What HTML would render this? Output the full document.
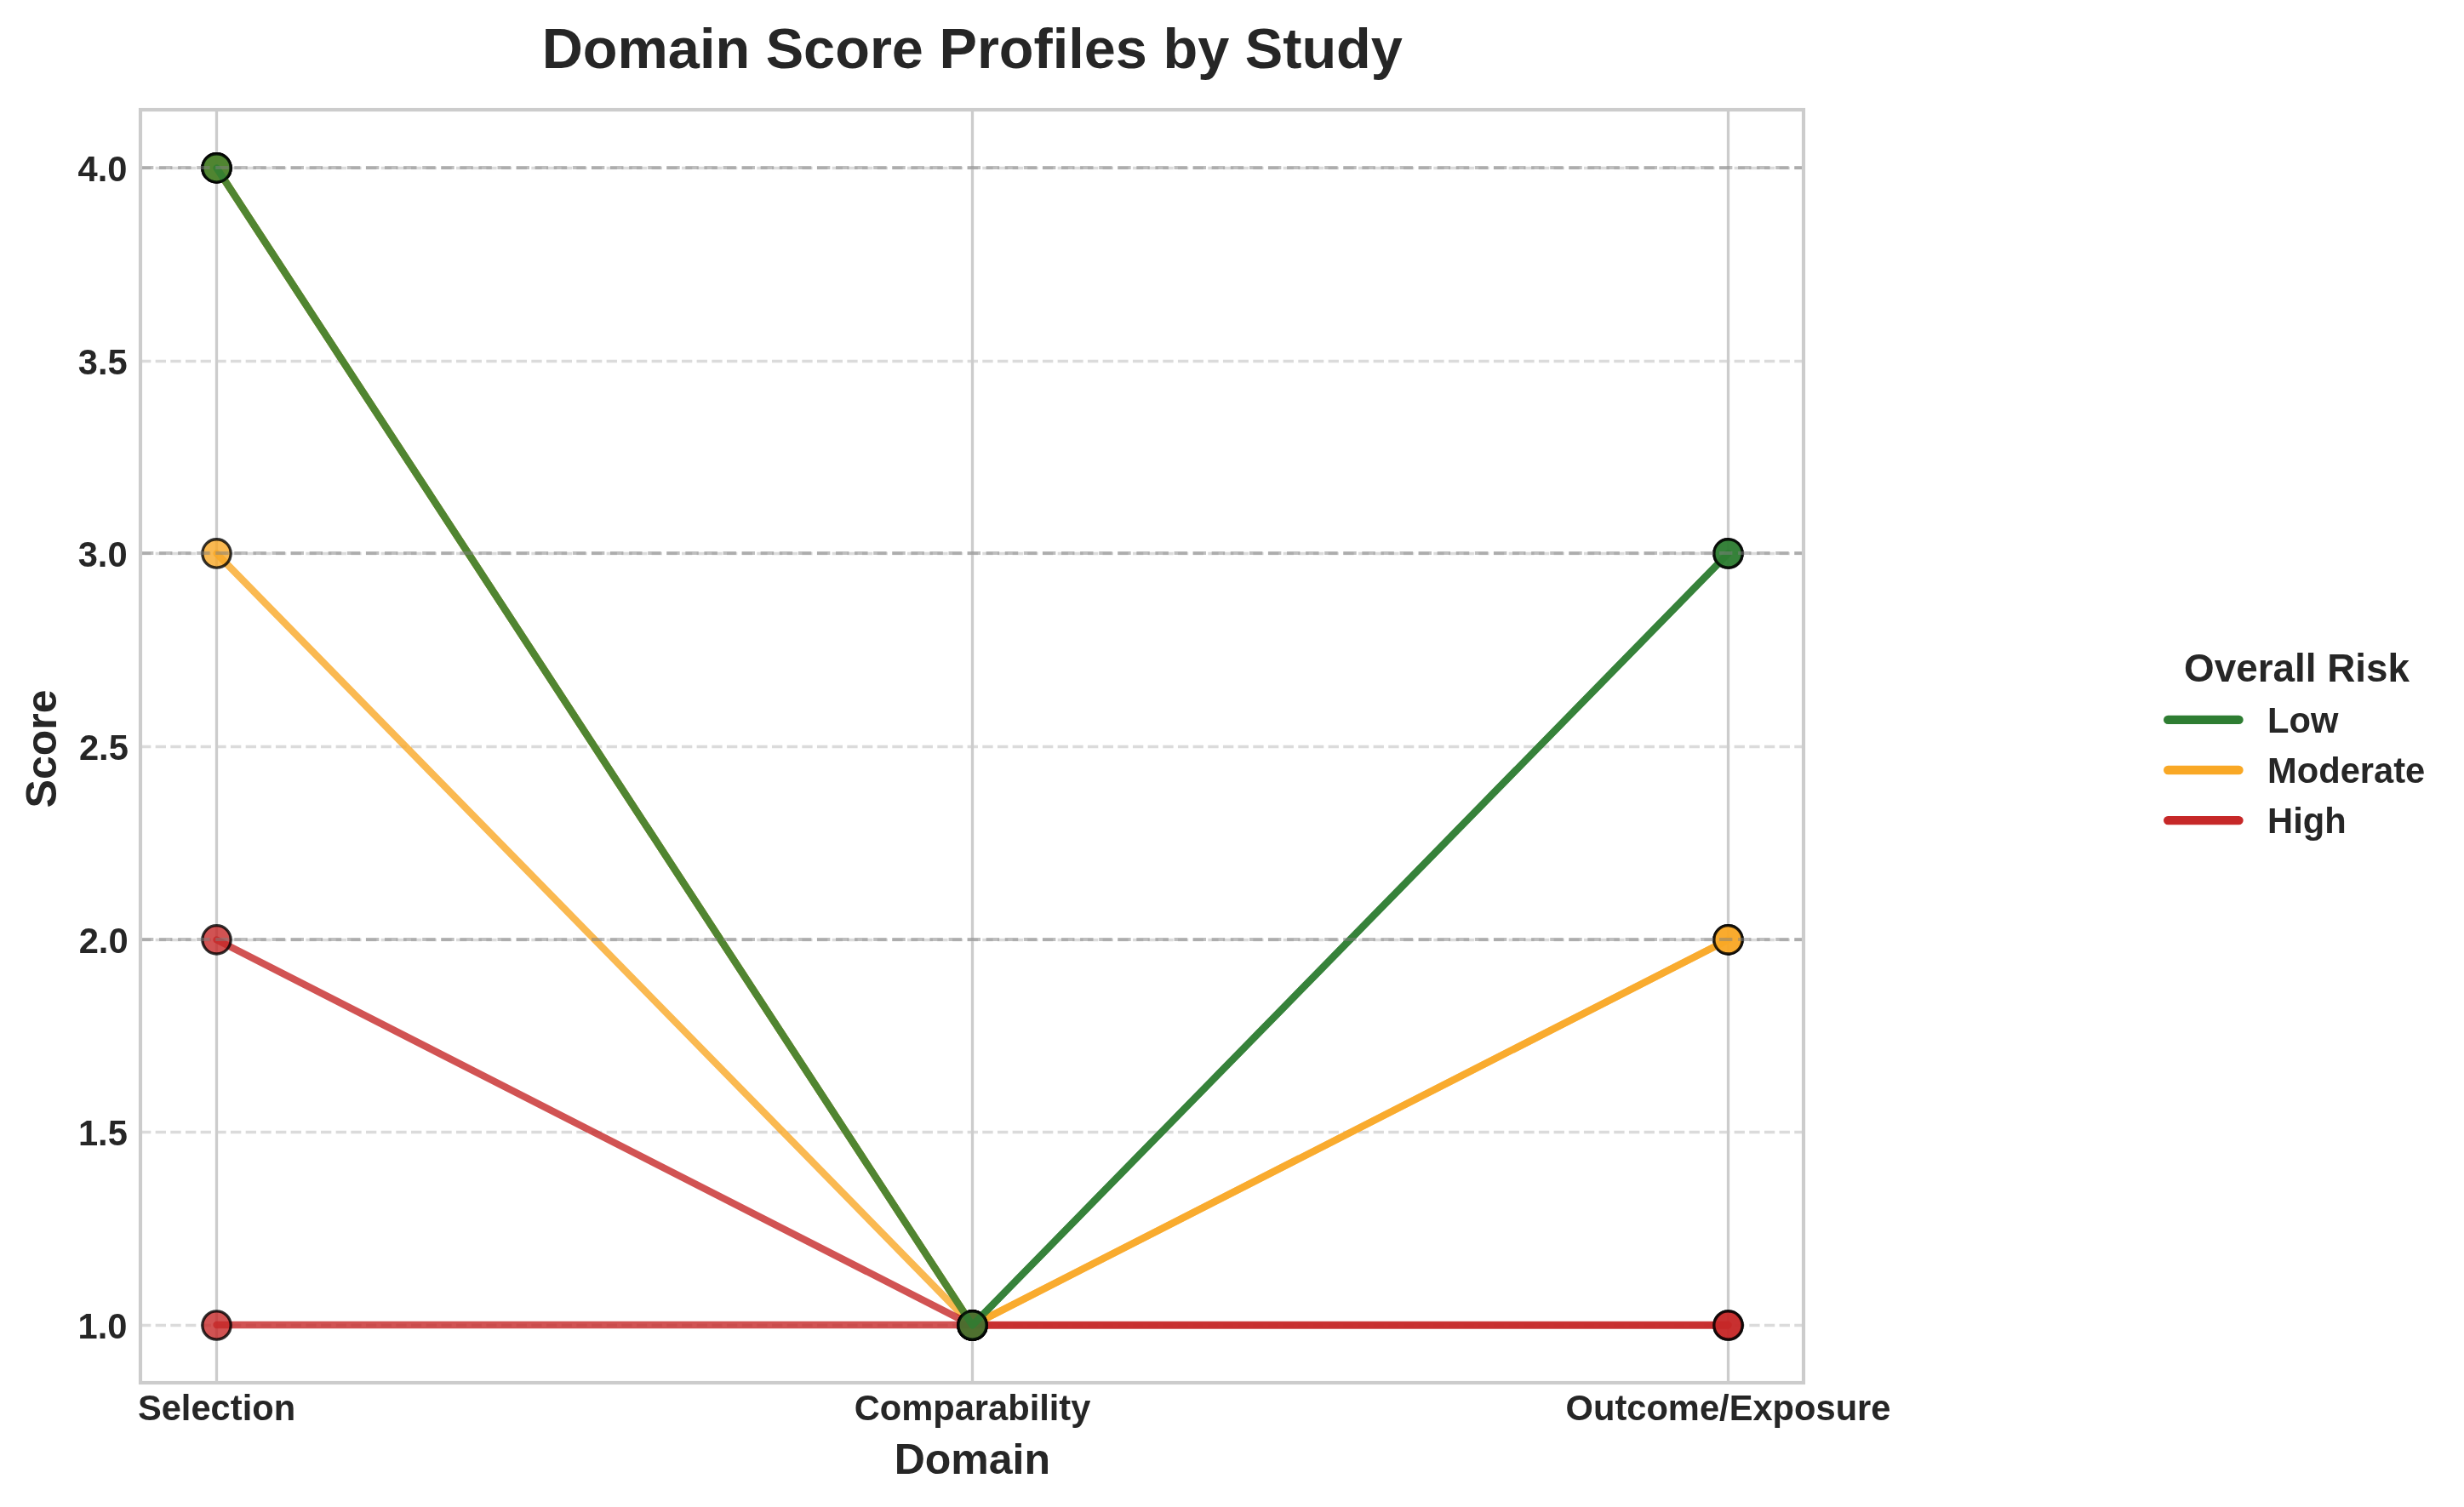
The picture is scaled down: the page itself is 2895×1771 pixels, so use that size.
<!DOCTYPE html><html><head><meta charset="utf-8"><title>Domain Score Profiles by Study</title>
<style>html,body{margin:0;padding:0;background:#fff;}svg{display:block;}text{font-family:"Liberation Sans",sans-serif;font-weight:700;fill:#262626;}</style></head><body>
<svg width="2895" height="1771" viewBox="0 0 2895 1771">
<rect x="0" y="0" width="2895" height="1771" fill="#fff"/>
<line x1="254.5" y1="129.0" x2="254.5" y2="1625.0" stroke="#cccccc" stroke-width="3.333"/>
<line x1="1142.5" y1="129.0" x2="1142.5" y2="1625.0" stroke="#cccccc" stroke-width="3.333"/>
<line x1="2030.5" y1="129.0" x2="2030.5" y2="1625.0" stroke="#cccccc" stroke-width="3.333"/>
<line x1="165.0" y1="1557.5" x2="2119.0" y2="1557.5" stroke="#cccccc" stroke-opacity="0.7" stroke-width="3.333" stroke-dasharray="12.333 5.333"/>
<line x1="165.0" y1="1330.5" x2="2119.0" y2="1330.5" stroke="#cccccc" stroke-opacity="0.7" stroke-width="3.333" stroke-dasharray="12.333 5.333"/>
<line x1="165.0" y1="1104.5" x2="2119.0" y2="1104.5" stroke="#cccccc" stroke-opacity="0.7" stroke-width="3.333" stroke-dasharray="12.333 5.333"/>
<line x1="165.0" y1="877.5" x2="2119.0" y2="877.5" stroke="#cccccc" stroke-opacity="0.7" stroke-width="3.333" stroke-dasharray="12.333 5.333"/>
<line x1="165.0" y1="650.5" x2="2119.0" y2="650.5" stroke="#cccccc" stroke-opacity="0.7" stroke-width="3.333" stroke-dasharray="12.333 5.333"/>
<line x1="165.0" y1="424.5" x2="2119.0" y2="424.5" stroke="#cccccc" stroke-opacity="0.7" stroke-width="3.333" stroke-dasharray="12.333 5.333"/>
<line x1="165.0" y1="197.5" x2="2119.0" y2="197.5" stroke="#cccccc" stroke-opacity="0.7" stroke-width="3.333" stroke-dasharray="12.333 5.333"/>
<polyline points="254.5,197.4 1142.5,1557.5 2030.5,650.45" fill="none" stroke="#2E7D32" stroke-opacity="0.8" stroke-width="8.333" stroke-linecap="round" stroke-linejoin="round"/>
<circle cx="254.5" cy="197.4" r="16.667" fill="#2E7D32" fill-opacity="0.8" stroke="#000" stroke-opacity="0.8" stroke-width="3.333"/>
<circle cx="1142.5" cy="1557.5" r="16.667" fill="#2E7D32" fill-opacity="0.8" stroke="#000" stroke-opacity="0.8" stroke-width="3.333"/>
<circle cx="2030.5" cy="650.45" r="16.667" fill="#2E7D32" fill-opacity="0.8" stroke="#000" stroke-opacity="0.8" stroke-width="3.333"/>
<polyline points="254.5,650.45 1142.5,1557.5 2030.5,1104.35" fill="none" stroke="#F9A825" stroke-opacity="0.8" stroke-width="8.333" stroke-linecap="round" stroke-linejoin="round"/>
<circle cx="254.5" cy="650.45" r="16.667" fill="#F9A825" fill-opacity="0.8" stroke="#000" stroke-opacity="0.8" stroke-width="3.333"/>
<circle cx="1142.5" cy="1557.5" r="16.667" fill="#F9A825" fill-opacity="0.8" stroke="#000" stroke-opacity="0.8" stroke-width="3.333"/>
<circle cx="2030.5" cy="1104.35" r="16.667" fill="#F9A825" fill-opacity="0.8" stroke="#000" stroke-opacity="0.8" stroke-width="3.333"/>
<polyline points="254.5,1104.35 1142.5,1557.5 2030.5,1557.5" fill="none" stroke="#C62828" stroke-opacity="0.8" stroke-width="8.333" stroke-linecap="round" stroke-linejoin="round"/>
<circle cx="254.5" cy="1104.35" r="16.667" fill="#C62828" fill-opacity="0.8" stroke="#000" stroke-opacity="0.8" stroke-width="3.333"/>
<circle cx="1142.5" cy="1557.5" r="16.667" fill="#C62828" fill-opacity="0.8" stroke="#000" stroke-opacity="0.8" stroke-width="3.333"/>
<circle cx="2030.5" cy="1557.5" r="16.667" fill="#C62828" fill-opacity="0.8" stroke="#000" stroke-opacity="0.8" stroke-width="3.333"/>
<polyline points="254.5,197.4 1142.5,1557.5 2030.5,1104.35" fill="none" stroke="#F9A825" stroke-opacity="0.8" stroke-width="8.333" stroke-linecap="round" stroke-linejoin="round"/>
<circle cx="254.5" cy="197.4" r="16.667" fill="#F9A825" fill-opacity="0.8" stroke="#000" stroke-opacity="0.8" stroke-width="3.333"/>
<circle cx="1142.5" cy="1557.5" r="16.667" fill="#F9A825" fill-opacity="0.8" stroke="#000" stroke-opacity="0.8" stroke-width="3.333"/>
<circle cx="2030.5" cy="1104.35" r="16.667" fill="#F9A825" fill-opacity="0.8" stroke="#000" stroke-opacity="0.8" stroke-width="3.333"/>
<polyline points="254.5,1557.0 1142.5,1557.0 2030.5,1557.0" fill="none" stroke="#C62828" stroke-opacity="0.8" stroke-width="8.333" stroke-linecap="round" stroke-linejoin="round"/>
<circle cx="254.5" cy="1557.5" r="16.667" fill="#C62828" fill-opacity="0.8" stroke="#000" stroke-opacity="0.8" stroke-width="3.333"/>
<circle cx="1142.5" cy="1557.5" r="16.667" fill="#C62828" fill-opacity="0.8" stroke="#000" stroke-opacity="0.8" stroke-width="3.333"/>
<circle cx="2030.5" cy="1557.5" r="16.667" fill="#C62828" fill-opacity="0.8" stroke="#000" stroke-opacity="0.8" stroke-width="3.333"/>
<polyline points="254.5,197.4 1142.5,1557.5 2030.5,650.45" fill="none" stroke="#2E7D32" stroke-opacity="0.8" stroke-width="8.333" stroke-linecap="round" stroke-linejoin="round"/>
<circle cx="254.5" cy="197.4" r="16.667" fill="#2E7D32" fill-opacity="0.8" stroke="#000" stroke-opacity="0.8" stroke-width="3.333"/>
<circle cx="1142.5" cy="1557.5" r="16.667" fill="#2E7D32" fill-opacity="0.8" stroke="#000" stroke-opacity="0.8" stroke-width="3.333"/>
<circle cx="2030.5" cy="650.45" r="16.667" fill="#2E7D32" fill-opacity="0.8" stroke="#000" stroke-opacity="0.8" stroke-width="3.333"/>
<line x1="164.9" y1="1104.0" x2="2119.0" y2="1104.0" stroke="#808080" stroke-opacity="0.5" stroke-width="4.167" stroke-dasharray="15.417 6.667"/>
<line x1="164.9" y1="650.0" x2="2119.0" y2="650.0" stroke="#808080" stroke-opacity="0.5" stroke-width="4.167" stroke-dasharray="15.417 6.667"/>
<line x1="164.9" y1="197.0" x2="2119.0" y2="197.0" stroke="#808080" stroke-opacity="0.5" stroke-width="4.167" stroke-dasharray="15.417 6.667"/>
<rect x="165.0" y="129.0" width="1954.0" height="1496.0" fill="none" stroke="#cccccc" stroke-width="4.167"/>
<defs><filter id="gs" x="0" y="0" width="2895" height="1771" filterUnits="userSpaceOnUse"><feColorMatrix type="saturate" values="0"/></filter></defs>
<g filter="url(#gs)" style="will-change:transform">
<text transform="translate(149.45,213.00) scale(1,1.027)" font-size="41.667" text-anchor="end">4.0</text>
<text transform="translate(149.66,439.67) scale(1,1.027)" font-size="41.667" text-anchor="end">3.5</text>
<text transform="translate(149.60,666.33) scale(1,1.027)" font-size="41.667" text-anchor="end">3.0</text>
<text transform="translate(150.86,893.00) scale(1,1.027)" font-size="41.667" text-anchor="end">2.5</text>
<text transform="translate(150.58,1119.67) scale(1,1.027)" font-size="41.667" text-anchor="end">2.0</text>
<text transform="translate(149.86,1346.34) scale(1,1.027)" font-size="41.667" text-anchor="end">1.5</text>
<text transform="translate(149.45,1573.00) scale(1,1.027)" font-size="41.667" text-anchor="end">1.0</text>
<text transform="translate(254.50,1669.20)" font-size="41.667" text-anchor="middle">Selection</text>
<text transform="translate(1142.50,1669.20)" font-size="41.667" text-anchor="middle">Comparability</text>
<text transform="translate(2030.50,1669.20)" font-size="41.667" text-anchor="middle">Outcome/Exposure</text>
<text transform="translate(1142.30,1731.90)" font-size="50" text-anchor="middle">Domain</text>
<text transform="translate(66.00,879.90) rotate(-90)" font-size="50" text-anchor="middle">Score</text>
<text transform="translate(1142.30,79.90)" font-size="66.667" text-anchor="middle">Domain Score Profiles by Study</text>
<text transform="translate(2566.10,800.95)" font-size="45.833">Overall Risk</text>
<text transform="translate(2664.10,860.90)" font-size="41.667">Low</text>
<text transform="translate(2664.10,919.80)" font-size="41.667">Moderate</text>
<text transform="translate(2664.10,978.90)" font-size="41.667">High</text>
</g>
<line x1="2547.2" y1="845.9" x2="2630.5" y2="845.9" stroke="#2E7D32" stroke-width="10.417" stroke-linecap="round"/>
<line x1="2547.2" y1="905.0" x2="2630.5" y2="905.0" stroke="#F9A825" stroke-width="10.417" stroke-linecap="round"/>
<line x1="2547.2" y1="964.1" x2="2630.5" y2="964.1" stroke="#C62828" stroke-width="10.417" stroke-linecap="round"/>
</svg></body></html>
